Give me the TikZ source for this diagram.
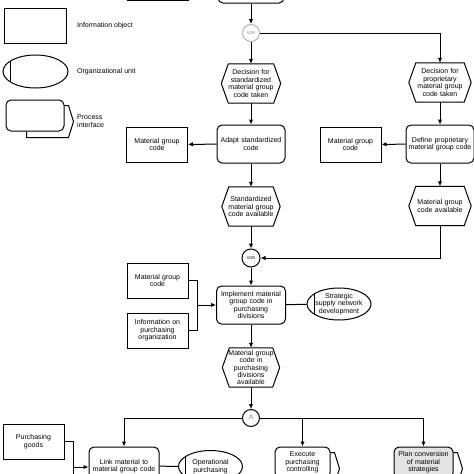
\documentclass[tikz,border=0pt]{standalone}
\usepackage{fontspec}
\setmainfont{Liberation Sans}
\usetikzlibrary{calc}
\usetikzlibrary{positioning}
\usetikzlibrary{shapes.geometric}
\usetikzlibrary{arrows.meta}

\tikzset{
  txt/.style={font=\fontsize{7}{7.4}\selectfont, align=center, inner sep=0pt},
  info/.style={txt, draw, line width=1pt, minimum width=61pt, minimum height=35pt, text width=58pt},
  func/.style={txt, draw, line width=1pt, rounded corners=5pt, fill=white, minimum height=38pt},
  evt/.style={txt, minimum height=39pt},
  orgunit/.style={txt, draw, line width=1pt, ellipse, minimum width=64pt, minimum height=32pt, inner xsep=-4pt, text width=50pt},
  conn/.style={draw, line width=1pt, circle, minimum size=17pt, inner sep=0pt, font=\fontsize{4}{4}\selectfont},
  wire/.style={line width=1pt},
  flow/.style={line width=1pt, -{Latex[length=5pt, width=4.5pt]}},
}

\begin{document}
\begin{tikzpicture}[x=1pt, y=-1pt]
        \useasboundingbox (0,0) rectangle (474,474);
        \clip (0,0) rectangle (474,474);

        \node[info, minimum width=62pt] (leginfo) at (35,25.5) {};
        \node[orgunit, minimum width=65pt, minimum height=33pt] (legou) at (35.5,71.5) {};
        \node[func, minimum width=58pt, minimum height=31pt] (legpi) at (35,115.5) {};
        \node[txt, anchor=west] (leginfotxt) at (77,26) {Information object};
        \node[txt, anchor=west] (legoutxt) at (77,71.5) {Organizational unit};
        \node[txt, anchor=west, align=left] (legpitxt) at (77,121) {Process\\interface};

        \node[info] (topinfo) at (157.5,-17) {};
        \node[func, minimum width=66pt] (topfun) at (251,-16) {};
        \node[conn, draw=gray!60, text=gray] (xora) at (251,33) {XOR};
        \node[evt, minimum width=59pt, text width=52pt] (dec1) at (251,83.5) {Decision for\\standardized\\material group\\code taken};
        \node[func, minimum width=68pt, text width=64pt] (adapt) at (251,144) {Adapt standardized\\code};
        \node[info] (mgca) at (157,144.5) {Material group\\code};
        \node[evt, minimum width=58pt, text width=52pt] (std) at (251,206.5) {Standardized\\material group\\code available};

        \node[evt, minimum width=62pt, text width=52pt] (dec2) at (440,82.5) {Decision for\\proprietary\\material group\\code taken};
        \node[func, minimum width=68pt, text width=66pt] (define) at (440,144) {Define proprietary\\material group code};
        \node[info] (mgcb) at (350.5,144.5) {Material group\\code};
        \node[evt, minimum width=62pt, text width=52pt] (avail) at (440,206) {Material group\\code available};

        \node[conn, minimum size=18pt] (xorb) at (251,258) {XOR};
        \node[info] (mgcc) at (157.5,280.5) {Material group\\code};
        \node[info] (orginfo) at (157.5,330.5) {Information on\\purchasing\\organization};
        \node[func, minimum width=69pt, text width=65pt] (implement) at (251,305) {Implement material\\group code in\\purchasing\\divisions};
        \node[orgunit] (ssnd) at (339,304) {Strategic\\supply network\\development};
        \node[evt, minimum width=57pt, text width=53pt] (implav) at (251,367.5) {Material group\\code in\\purchasing\\divisions\\available};
        \node[conn, font=\fontsize{7}{7}\selectfont] (and) at (251,418) {$\wedge$};

        \node[info] (goods) at (33.5,441.5) {Purchasing\\goods};
        \node[func, minimum width=70pt, text width=66pt] (linkmat) at (124,466) {Link material to\\material group code};
        \node[orgunit] (opur) at (210.5,466.5) {Operational\\purchasing};
        \node[func, minimum width=55pt, minimum height=31pt, text width=52pt] (exec) at (302.5,462.5) {Execute\\purchasing\\controlling};
        \node[func, fill=gray!22, minimum width=59pt, minimum height=31pt, text width=57pt] (plan) at (423.5,462.5) {Plan conversion\\of material\\strategies};

        \foreach \ev in {dec1, std, dec2, avail, implav}
          \draw[wire] (\ev.west) -- ([xshift=7pt]\ev.north west) -- ([xshift=-7pt]\ev.north east)
            -- (\ev.east) -- ([xshift=-7pt]\ev.south east) -- ([xshift=7pt]\ev.south west) -- cycle;
        \foreach \pif in {legpi, exec, plan}
          \draw[wire] ([yshift=-6pt]\pif.north east) -- ([shift={(4pt,-6pt)}]\pif.north east)
            -- ([shift={(9pt,-6pt)}]\pif.east) -- ([shift={(4pt,-6pt)}]\pif.south east)
            -- ([shift={(21pt,-6pt)}]\pif.south west) -- ([xshift=21pt]\pif.south west);
        \foreach \ou in {legou, ssnd, opur}
          \draw[wire] ([shift={(7.5pt,10.5pt)}]\ou.west) -- ([shift={(7.5pt,-10.5pt)}]\ou.west);

        \draw[flow] (topfun) -- (xora);
        \draw[flow] (xora) -- (dec1);
        \draw[flow] (xora.east) -| (dec2.north);
        \draw[flow] (dec1) -- (adapt);
        \draw[flow] (adapt) -- (mgca);
        \draw[flow] (adapt) -- (std);
        \draw[flow] (std) -- (xorb);
        \draw[flow] (dec2) -- (define);
        \draw[flow] (define) -- (mgcb);
        \draw[flow] (define) -- (avail);
        \draw[flow] (avail.south) |- (xorb.east);

        \coordinate (jna) at (197,305);
        \draw[wire] (mgcc.east) -| (jna);
        \draw[wire] (orginfo.east) -| (jna);
        \draw[flow] (jna) -- (implement.west);
        \draw[flow] (xorb) -- (implement);
        \draw[wire] (implement) -- (ssnd);
        \draw[flow] (implement) -- (implav);
        \draw[flow] (implav) -- (and);

        \draw[flow] (and.west) -| (linkmat.north);
        \draw[flow] (and.east) -| (exec.north);
        \draw[flow] (and.east) -| (plan.north);
        \coordinate (jnb) at (73,467);
        \coordinate (jnbend) at (73,480);
        \draw[wire] (goods.east) -| (jnbend);
        \draw[flow] (jnb) -- (linkmat.west |- jnb);
        \draw[wire] (linkmat) -- (opur);
      \end{tikzpicture}
\end{document}
